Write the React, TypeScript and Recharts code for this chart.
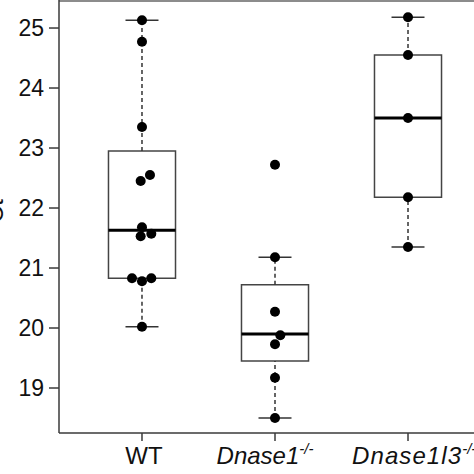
import React from 'react'
import {
  ComposedChart,
  Scatter,
  XAxis,
  YAxis,
  ReferenceArea,
  ReferenceLine,
} from 'recharts'

// groups along the x axis
const groups = ['WT', 'Dnase1', 'Dnase1l3']

// box statistics per group
const lowerWhisker = [20.02, 18.5, 21.35]
const q1 = [20.83, 19.45, 22.18]
const median = [21.63, 19.9, 23.5]
const q3 = [22.95, 20.72, 24.55]
const upperWhisker = [25.13, 21.18, 25.18]

// individual measurements (with horizontal jitter, in category units)
const wtValues = [25.13, 24.77, 23.35, 22.55, 22.45, 21.68, 21.57, 21.53, 20.83, 20.78, 20.83, 20.02]
const wtJitter = [0, 0, 0, 0.06, -0.01, 0, 0.07, -0.01, -0.075, 0, 0.07, 0]
const dnase1Values = [22.72, 21.18, 20.27, 19.88, 19.73, 19.17, 18.5]
const dnase1Jitter = [0, 0, 0, 0.04, 0, 0, 0]
const dnase1l3Values = [25.18, 24.55, 23.5, 22.18, 21.35]
const dnase1l3Jitter = [0, 0, 0, 0, 0]

const yTicks = [19, 20, 21, 22, 23, 24, 25]

const points = [
  ...wtValues.map((v, i) => ({ x: 1 + wtJitter[i], y: v })),
  ...dnase1Values.map((v, i) => ({ x: 2 + dnase1Jitter[i], y: v })),
  ...dnase1l3Values.map((v, i) => ({ x: 3 + dnase1l3Jitter[i], y: v })),
]

const FONT = '"Liberation Sans", Arial, sans-serif'
const BOX_HALF = 0.252
const CAP_HALF = 0.124

function XTick(props: any) {
  const { x, y, payload } = props
  const idx = payload.value - 1
  const name = groups[idx]
  const common = { fontFamily: FONT, fontSize: 24, fill: '#111' }
  if (name === 'WT') {
    return (
      <text x={x + 2} y={y + 21} textAnchor="middle" {...common}>
        WT
      </text>
    )
  }
  if (idx === 2) {
    return (
      <text x={x - 56} y={y + 21} textAnchor="start" {...common} fontStyle="italic" letterSpacing={1.1}>
        {name}
        <tspan fontSize={15} dy={-10} letterSpacing={0}>-/-</tspan>
      </text>
    )
  }
  return (
    <text x={x - 10} y={y + 21} textAnchor="middle" {...common} fontStyle="italic">
      {name}
      <tspan fontSize={15} dy={-10}>-/-</tspan>
    </text>
  )
}

function YLabel() {
  return (
    <text
      x={3}
      y={211}
      transform="rotate(-90, 3, 211)"
      textAnchor="middle"
      fontFamily={FONT}
      fontSize={24}
      fill="#111"
    >
      Ct
    </text>
  )
}

export default function App() {
  return (
    <div style={{ position: 'absolute', left: 0, top: 0, width: 474, height: 474, overflow: 'hidden', background: '#fff' }}>
      <ComposedChart
        width={500}
        height={474}
        data={points}
        margin={{ top: 0, right: 9, bottom: 0, left: 0 }}
      >
        <XAxis
          type="number"
          dataKey="x"
          domain={[0.376, 3.624]}
          allowDataOverflow
          ticks={[1, 2, 3]}
          tick={<XTick />}
          tickSize={8}
          tickMargin={2}
          height={41}
          axisLine={{ stroke: '#3a3a3a', strokeWidth: 1.5 }}
          tickLine={{ stroke: '#3a3a3a', strokeWidth: 1.5 }}
        />
        <YAxis
          type="number"
          dataKey="y"
          domain={[18.25, 25.467]}
          allowDataOverflow
          ticks={yTicks}
          width={59}
          tickSize={10}
          tickMargin={5}
          tick={{ fontFamily: FONT, fontSize: 23, fill: '#111' }}
          axisLine={{ stroke: '#3a3a3a', strokeWidth: 1.5 }}
          tickLine={{ stroke: '#3a3a3a', strokeWidth: 1.5 }}
          label={<YLabel />}
        />
        <ReferenceLine y={25.467} stroke="#8c8c8c" strokeWidth={4} ifOverflow="visible" />
        {groups.map((g, i) => (
          <ReferenceArea
            key={'box' + g}
            x1={i + 1 - BOX_HALF}
            x2={i + 1 + BOX_HALF}
            y1={q1[i]}
            y2={q3[i]}
            fill="none"
            fillOpacity={0}
            stroke="#444"
            strokeWidth={1.5}
          />
        ))}
        {groups.map((g, i) => (
          <ReferenceLine
            key={'wu' + g}
            segment={[{ x: i + 1, y: q3[i] }, { x: i + 1, y: upperWhisker[i] }]}
            stroke="#333"
            strokeWidth={1.5}
            strokeDasharray="4 3"
          />
        ))}
        {groups.map((g, i) => (
          <ReferenceLine
            key={'wl' + g}
            segment={[{ x: i + 1, y: lowerWhisker[i] }, { x: i + 1, y: q1[i] }]}
            stroke="#333"
            strokeWidth={1.5}
            strokeDasharray="4 3"
          />
        ))}
        {groups.map((g, i) => (
          <ReferenceLine
            key={'cu' + g}
            segment={[{ x: i + 1 - CAP_HALF, y: upperWhisker[i] }, { x: i + 1 + CAP_HALF, y: upperWhisker[i] }]}
            stroke="#333"
            strokeWidth={1.5}
          />
        ))}
        {groups.map((g, i) => (
          <ReferenceLine
            key={'cl' + g}
            segment={[{ x: i + 1 - CAP_HALF, y: lowerWhisker[i] }, { x: i + 1 + CAP_HALF, y: lowerWhisker[i] }]}
            stroke="#333"
            strokeWidth={1.5}
          />
        ))}
        {groups.map((g, i) => (
          <ReferenceLine
            key={'md' + g}
            segment={[{ x: i + 1 - BOX_HALF, y: median[i] }, { x: i + 1 + BOX_HALF, y: median[i] }]}
            stroke="#000"
            strokeWidth={3}
          />
        ))}
        <Scatter
          dataKey="y"
          fill="#000"
          isAnimationActive={false}
          shape={(p: any) => <circle cx={p.cx} cy={p.cy} r={5} fill="#000" />}
        />
      </ComposedChart>
    </div>
  )
}
